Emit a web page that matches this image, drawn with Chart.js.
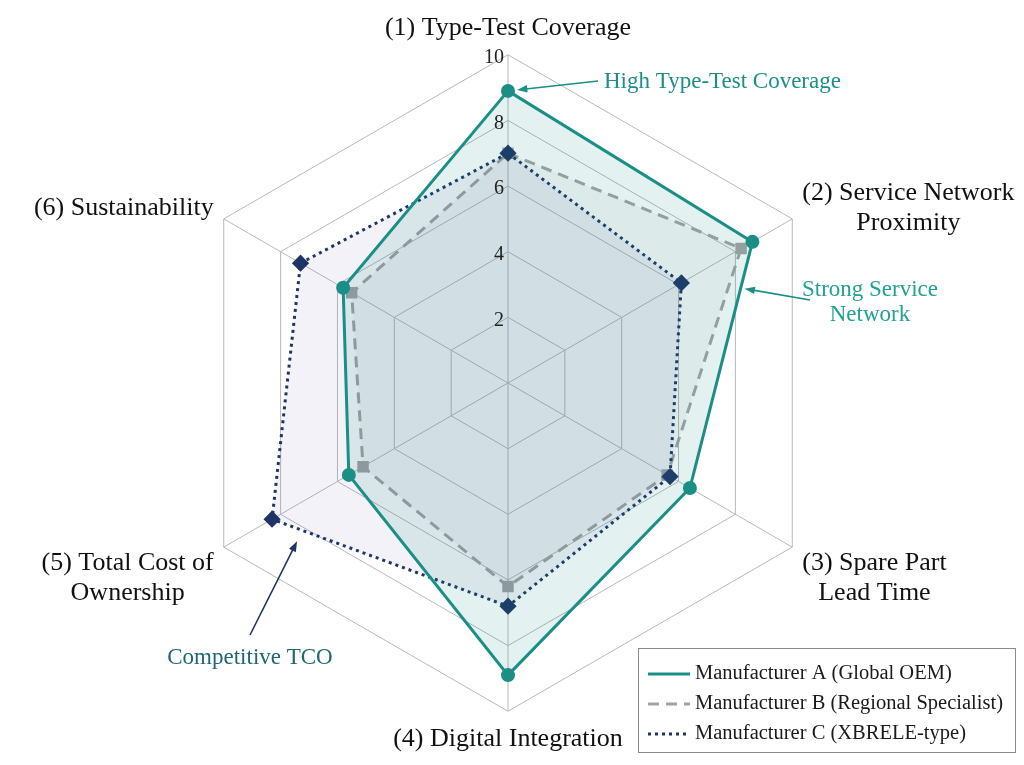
<!DOCTYPE html>
<html>
<head>
<meta charset="utf-8">
<script src="https://cdn.jsdelivr.net/npm/chart.js@4.4.1/dist/chart.umd.min.js"></script>
<style>
  html, body { margin: 0; padding: 0; background: #fff; }
  #wrap { width: 1024px; height: 765px; position: relative; }
</style>
</head>
<body>
<div id="wrap"><canvas id="radar"></canvas></div>
<script>
const CRITERIA = [
  '(1) Type-Test Coverage',
  ['(2) Service Network', 'Proximity'],
  ['(3) Spare Part', 'Lead Time'],
  '(4) Digital Integration',
  ['(5) Total Cost of', 'Ownership'],
  '(6) Sustainability',
]
const SERIES_NAMES = [
  'Manufacturer A (Global OEM)',
  'Manufacturer B (Regional Specialist)',
  'Manufacturer C (XBRELE-type)',
]
const MFR_A = [8.9, 8.6, 6.4, 8.9, 5.6, 5.8]
const MFR_B = [7.0, 8.2, 5.6, 6.2, 5.1, 5.5]
const MFR_C = [7.0, 6.1, 5.7, 6.8, 8.3, 7.3]
const TICK_VALUES = [2, 4, 6, 8, 10]

const SERIF = '"Liberation Serif", "DejaVu Serif", serif'
const TEAL = '#1b8f86'
const GREY = '#a3a3a3'
const NAVY = '#1f3467'

// little helper, arrow with filled head
const drawArrow = (ctx, x1, y1, x2, y2, color) => {
  const ang = Math.atan2(y2 - y1, x2 - x1)
  const head = 11
  ctx.save()
  ctx.strokeStyle = color
  ctx.fillStyle = color
  ctx.lineWidth = 1.6
  ctx.beginPath()
  ctx.moveTo(x1, y1)
  ctx.lineTo(x2 - Math.cos(ang) * head * 0.8, y2 - Math.sin(ang) * head * 0.8)
  ctx.stroke()
  ctx.beginPath()
  ctx.moveTo(x2, y2)
  ctx.lineTo(x2 - head * Math.cos(ang - 0.35), y2 - head * Math.sin(ang - 0.35))
  ctx.lineTo(x2 - head * Math.cos(ang + 0.35), y2 - head * Math.sin(ang + 0.35))
  ctx.closePath()
  ctx.fill()
  ctx.restore()
}

// axis titles: chart.js reserves the room, we draw them centred per block
const axisTitles = {
  id: 'axisTitles',
  afterDraw(chart) {
    const { ctx } = chart
    const r = chart.scales.r
    const lineH = 30
    ctx.save()
    ctx.font = `26px ${SERIF}`
    ctx.fillStyle = '#111'
    ctx.textBaseline = 'middle'
    ctx.textAlign = 'center'
    CRITERIA.forEach((lab, i) => {
      const lines = Array.isArray(lab) ? lab : [lab]
      const p = r.getPointPosition(i, r.drawingArea)
      const widest = Math.max(...lines.map((l) => ctx.measureText(l).width))
      let cx = p.x
      let cy = p.y
      if (i === 0) cy = p.y - 27
      else if (i === 3) cy = p.y + 28
      else {
        const right = i < 3
        cx = right ? p.x + 10 + widest / 2 : p.x - 10 - widest / 2
        cy = (i === 1 || i === 5) ? p.y - 11 : p.y + 31
      }
      const top = cy - ((lines.length - 1) * lineH) / 2
      lines.forEach((l, k) => ctx.fillText(l, cx, top + k * lineH))
    })
    ctx.restore()
  },
}

const tickLabels = {
  id: 'tickLabels',
  afterDatasetsDraw(chart) {
    const { ctx } = chart
    const r = chart.scales.r
    ctx.save()
    ctx.font = `20px ${SERIF}`
    ctx.fillStyle = '#222'
    ctx.textAlign = 'right'
    ctx.textBaseline = 'middle'
    TICK_VALUES.forEach((v) => {
      const d = r.getDistanceFromCenterForValue(v)
      ctx.fillText(String(v), r.xCenter - 4, r.yCenter - d + 3)
    })
    ctx.restore()
  },
}

const notes = {
  id: 'notes',
  afterDatasetsDraw(chart) {
    const { ctx } = chart
    const a = chart.getDatasetMeta(0).data
    const c = chart.getDatasetMeta(2).data
    ctx.save()
    ctx.font = `23px ${SERIF}`
    ctx.textBaseline = 'middle'

    // High Type-Test Coverage
    ctx.fillStyle = TEAL
    ctx.textAlign = 'left'
    ctx.fillText('High Type-Test Coverage', 604, 82)
    drawArrow(ctx, 598, 81, a[0].x + 9, a[0].y - 1, TEAL)

    // Strong Service Network, points at segment between axis 2 and 3
    ctx.fillStyle = '#22a093'
    ctx.textAlign = 'center'
    ctx.fillText('Strong Service', 870, 290)
    ctx.fillText('Network', 870, 315)
    const t = 0.19
    const sx = a[1].x + (a[2].x - a[1].x) * t
    const sy = a[1].y + (a[2].y - a[1].y) * t
    drawArrow(ctx, 810, 300, sx + 4, sy, TEAL)

    // Competitive TCO
    ctx.fillStyle = '#1f6670'
    ctx.fillText('Competitive TCO', 250, 658)
    drawArrow(ctx, 250, 635, c[4].x + 25, c[4].y + 22, NAVY)
    ctx.restore()
  },
}

const boxLegend = {
  id: 'boxLegend',
  afterDraw(chart) {
    const { ctx } = chart
    const x = 638, y = 648, w = 377, h = 104
    ctx.save()
    ctx.fillStyle = '#fff'
    ctx.fillRect(x, y, w, h)
    ctx.strokeStyle = '#8a8a8a'
    ctx.lineWidth = 1
    ctx.strokeRect(x + 0.5, y + 0.5, w, h)
    ctx.font = `20.5px ${SERIF}`
    ctx.textBaseline = 'middle'
    ctx.textAlign = 'left'
    chart.data.datasets.forEach((ds, i) => {
      const ly = y + 26 + i * 30
      ctx.strokeStyle = ds.borderColor
      ctx.lineWidth = 3
      ctx.setLineDash(ds.borderDash || [])
      ctx.beginPath()
      ctx.moveTo(x + 10, ly)
      ctx.lineTo(x + 52, ly)
      ctx.stroke()
      ctx.setLineDash([])
      ctx.fillStyle = '#1a1a1a'
      ctx.fillText(ds.label, x + 57, ly)
    })
    ctx.restore()
  },
}

new Chart(document.getElementById('radar'), {
  type: 'radar',
  data: {
    labels: CRITERIA,
    datasets: [
      {
        label: SERIES_NAMES[0],
        data: MFR_A,
        borderColor: TEAL,
        backgroundColor: 'rgba(27, 143, 134, 0.12)',
        borderWidth: 3,
        fill: true,
        pointStyle: 'circle',
        pointRadius: 5.5,
        pointBackgroundColor: TEAL,
        pointBorderColor: TEAL,
        order: 0,
      },
      {
        label: SERIES_NAMES[1],
        data: MFR_B,
        borderColor: GREY,
        backgroundColor: 'rgba(150, 150, 150, 0.08)',
        borderWidth: 3,
        borderDash: [11, 7],
        fill: true,
        pointStyle: 'rect',
        pointRadius: 6,
        pointBackgroundColor: GREY,
        pointBorderColor: GREY,
        order: 2,
      },
      {
        label: SERIES_NAMES[2],
        data: MFR_C,
        borderColor: NAVY,
        backgroundColor: 'rgba(90, 90, 160, 0.08)',
        borderWidth: 3,
        borderDash: [3, 4],
        fill: true,
        pointStyle: 'rectRot',
        pointRadius: 6.5,
        pointBackgroundColor: NAVY,
        pointBorderColor: NAVY,
        order: 1,
      },
    ],
  },
  options: {
    responsive: true,
    maintainAspectRatio: false,
    animation: false,
    layout: { padding: { top: 10, bottom: 8, left: 30, right: 0 } },
    plugins: {
      legend: { display: false },
      tooltip: { enabled: false },
    },
    scales: {
      r: {
        min: 0,
        max: 10,
        ticks: { stepSize: 2, display: false },
        grid: { color: '#b8b8b8', lineWidth: 1 },
        angleLines: { color: '#b8b8b8', lineWidth: 1 },
        pointLabels: {
          // sizes the layout; the visible titles come from axisTitles
          font: { family: SERIF, size: 25 },
          color: 'rgba(0,0,0,0)',
          padding: 10,
        },
      },
    },
  },
  plugins: [tickLabels, notes, axisTitles, boxLegend],
})
</script>
</body>
</html>
